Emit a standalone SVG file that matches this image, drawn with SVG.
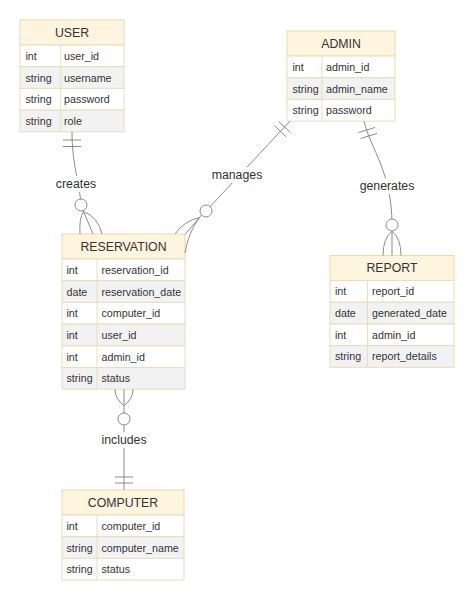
<svg xmlns="http://www.w3.org/2000/svg" width="474" height="604" viewBox="0 0 474 604">
<style>
  .hdr{fill:#fff4dd;stroke:#ecd9ad;stroke-width:1}
  .odd{fill:#ffffff;stroke:#ecdcb8;stroke-width:1}
  .even{fill:#f2f2f2;stroke:#ecdcb8;stroke-width:1}
  .div{stroke:#ecdcb8;stroke-width:1}
  .ht{font-family:"Liberation Sans",Arial,sans-serif;font-size:12.3px;fill:#333;text-anchor:middle;dominant-baseline:central}
  .at{font-family:"Liberation Sans",Arial,sans-serif;font-size:10.7px;fill:#333;dominant-baseline:central}
  .ln{fill:none;stroke:#8c8c8c;stroke-width:1}
  .cir{fill:#ffffff;stroke:#8c8c8c;stroke-width:1}
  .lb{font-family:"Liberation Sans",Arial,sans-serif;font-size:12.3px;fill:#333;text-anchor:middle;dominant-baseline:central}
  .lbg{fill:#ffffff;opacity:0.9}
</style>
<rect width="474" height="604" fill="#ffffff"/>

<g id="USER">
  <rect class="hdr" x="20" y="20" width="104" height="25"/>
  <text class="ht" x="72" y="32.5">USER</text>
  <rect class="odd" x="20" y="45" width="104" height="21.7"/>
  <rect class="even" x="20" y="66.7" width="104" height="21.7"/>
  <rect class="odd" x="20" y="88.4" width="104" height="21.7"/>
  <rect class="even" x="20" y="110.1" width="104" height="21.7"/>
  <line class="div" x1="60.7" y1="45" x2="60.7" y2="131.8"/>
  <text class="at" x="25.5" y="55.85">int</text><text class="at" x="64" y="55.85">user_id</text>
  <text class="at" x="25.5" y="77.55">string</text><text class="at" x="64" y="77.55">username</text>
  <text class="at" x="25.5" y="99.25">string</text><text class="at" x="64" y="99.25">password</text>
  <text class="at" x="25.5" y="120.95">string</text><text class="at" x="64" y="120.95">role</text>
</g>

<g id="ADMIN">
  <rect class="hdr" x="287" y="31" width="108" height="25"/>
  <text class="ht" x="341" y="43.5">ADMIN</text>
  <rect class="odd" x="287" y="56" width="108" height="21.7"/>
  <rect class="even" x="287" y="77.7" width="108" height="21.7"/>
  <rect class="odd" x="287" y="99.4" width="108" height="21.7"/>
  <line class="div" x1="322" y1="56" x2="322" y2="121.1"/>
  <text class="at" x="292.5" y="66.85">int</text><text class="at" x="326" y="66.85">admin_id</text>
  <text class="at" x="292.5" y="88.55">string</text><text class="at" x="326" y="88.55">admin_name</text>
  <text class="at" x="292.5" y="110.25">string</text><text class="at" x="326" y="110.25">password</text>
</g>

<g id="RESERVATION">
  <rect class="hdr" x="62" y="234" width="123" height="25"/>
  <text class="ht" x="123.5" y="246.5">RESERVATION</text>
  <rect class="odd" x="62" y="259" width="123" height="21.7"/>
  <rect class="even" x="62" y="280.7" width="123" height="21.7"/>
  <rect class="odd" x="62" y="302.4" width="123" height="21.7"/>
  <rect class="even" x="62" y="324.1" width="123" height="21.7"/>
  <rect class="odd" x="62" y="345.8" width="123" height="21.7"/>
  <rect class="even" x="62" y="367.5" width="123" height="21.7"/>
  <line class="div" x1="97" y1="259" x2="97" y2="389.2"/>
  <text class="at" x="66.5" y="269.85">int</text><text class="at" x="101.5" y="269.85">reservation_id</text>
  <text class="at" x="66.5" y="291.55">date</text><text class="at" x="101.5" y="291.55">reservation_date</text>
  <text class="at" x="66.5" y="313.25">int</text><text class="at" x="101.5" y="313.25">computer_id</text>
  <text class="at" x="66.5" y="334.95">int</text><text class="at" x="101.5" y="334.95">user_id</text>
  <text class="at" x="66.5" y="356.65">int</text><text class="at" x="101.5" y="356.65">admin_id</text>
  <text class="at" x="66.5" y="378.35">string</text><text class="at" x="101.5" y="378.35">status</text>
</g>

<g id="REPORT">
  <rect class="hdr" x="330" y="255.5" width="124" height="25"/>
  <text class="ht" x="392" y="268">REPORT</text>
  <rect class="odd" x="330" y="280.5" width="124" height="21.7"/>
  <rect class="even" x="330" y="302.2" width="124" height="21.7"/>
  <rect class="odd" x="330" y="323.9" width="124" height="21.7"/>
  <rect class="even" x="330" y="345.6" width="124" height="21.7"/>
  <line class="div" x1="367.5" y1="280.5" x2="367.5" y2="367.3"/>
  <text class="at" x="335" y="291.35">int</text><text class="at" x="372" y="291.35">report_id</text>
  <text class="at" x="335" y="313.05">date</text><text class="at" x="372" y="313.05">generated_date</text>
  <text class="at" x="335" y="334.75">int</text><text class="at" x="372" y="334.75">admin_id</text>
  <text class="at" x="335" y="356.45">string</text><text class="at" x="372" y="356.45">report_details</text>
</g>

<g id="COMPUTER">
  <rect class="hdr" x="62" y="490" width="122" height="25"/>
  <text class="ht" x="123" y="502.5">COMPUTER</text>
  <rect class="odd" x="62" y="515" width="122" height="21.7"/>
  <rect class="even" x="62" y="536.7" width="122" height="21.7"/>
  <rect class="odd" x="62" y="558.4" width="122" height="21.7"/>
  <line class="div" x1="97" y1="515" x2="97" y2="580.1"/>
  <text class="at" x="66.5" y="525.85">int</text><text class="at" x="101.5" y="525.85">computer_id</text>
  <text class="at" x="66.5" y="547.55">string</text><text class="at" x="101.5" y="547.55">computer_name</text>
  <text class="at" x="66.5" y="569.25">string</text><text class="at" x="101.5" y="569.25">status</text>
</g>

<g id="connectors">
  <!-- USER creates RESERVATION -->
  <path class="ln" d="M72,131.8 C72,165 80,185 81,205"/>
  <path class="ln" d="M63,140 H81 M63,146.5 H81"/>
  <path class="ln" d="M83.5,211.5 Q79,218 80,234 M83.5,211.5 L93,234 M83.5,211.5 Q98,217 102,234 M81.5,210 L83.5,211.5"/>
  <circle class="cir" cx="81" cy="205" r="6"/>
  <!-- ADMIN manages RESERVATION -->
  <path class="ln" d="M290,121.1 L206,211"/>
  <path class="ln" d="M278.7,121.5 L290.4,132.4 M274.6,125.8 L286.2,136.8"/>
  <path class="ln" d="M199.5,217.5 Q184,221 175,234 M199.5,217.5 L185,234.5 M199.5,217.5 Q188,233 185,253 M201.5,215 L199.5,217.5"/>
  <circle class="cir" cx="206" cy="211" r="6"/>
  <!-- ADMIN generates REPORT -->
  <path class="ln" d="M364,121.1 C371,150 392,172 392,225"/>
  <path class="ln" d="M358.5,132.5 L375,127.5 M360.5,138.5 L377,133.5"/>
  <path class="ln" d="M392,231 L392,255.5 M392,231.5 Q383,238 383,255.5 M392,231.5 Q401,238 401,255.5"/>
  <circle class="cir" cx="392" cy="225" r="6"/>
  <!-- RESERVATION includes COMPUTER -->
  <path class="ln" d="M124,389.2 L124,490"/>
  <path class="ln" d="M124,405.5 Q115,399 115,389.2 M124,405.5 Q133,399 133,389.2"/>
  <path class="ln" d="M115,477 H133 M115,483 H133"/>
  <circle class="cir" cx="124" cy="419" r="6"/>
  <!-- labels -->
  <rect class="lbg" x="55" y="176" width="42" height="16"/>
  <text class="lb" x="76" y="184">creates</text>
  <rect class="lbg" x="211" y="167" width="52" height="16"/>
  <text class="lb" x="237" y="175">manages</text>
  <rect class="lbg" x="359.5" y="178" width="55" height="16"/>
  <text class="lb" x="387" y="186">generates</text>
  <rect class="lbg" x="100" y="432" width="48" height="16"/>
  <text class="lb" x="124" y="440">includes</text>
</g>
</svg>
